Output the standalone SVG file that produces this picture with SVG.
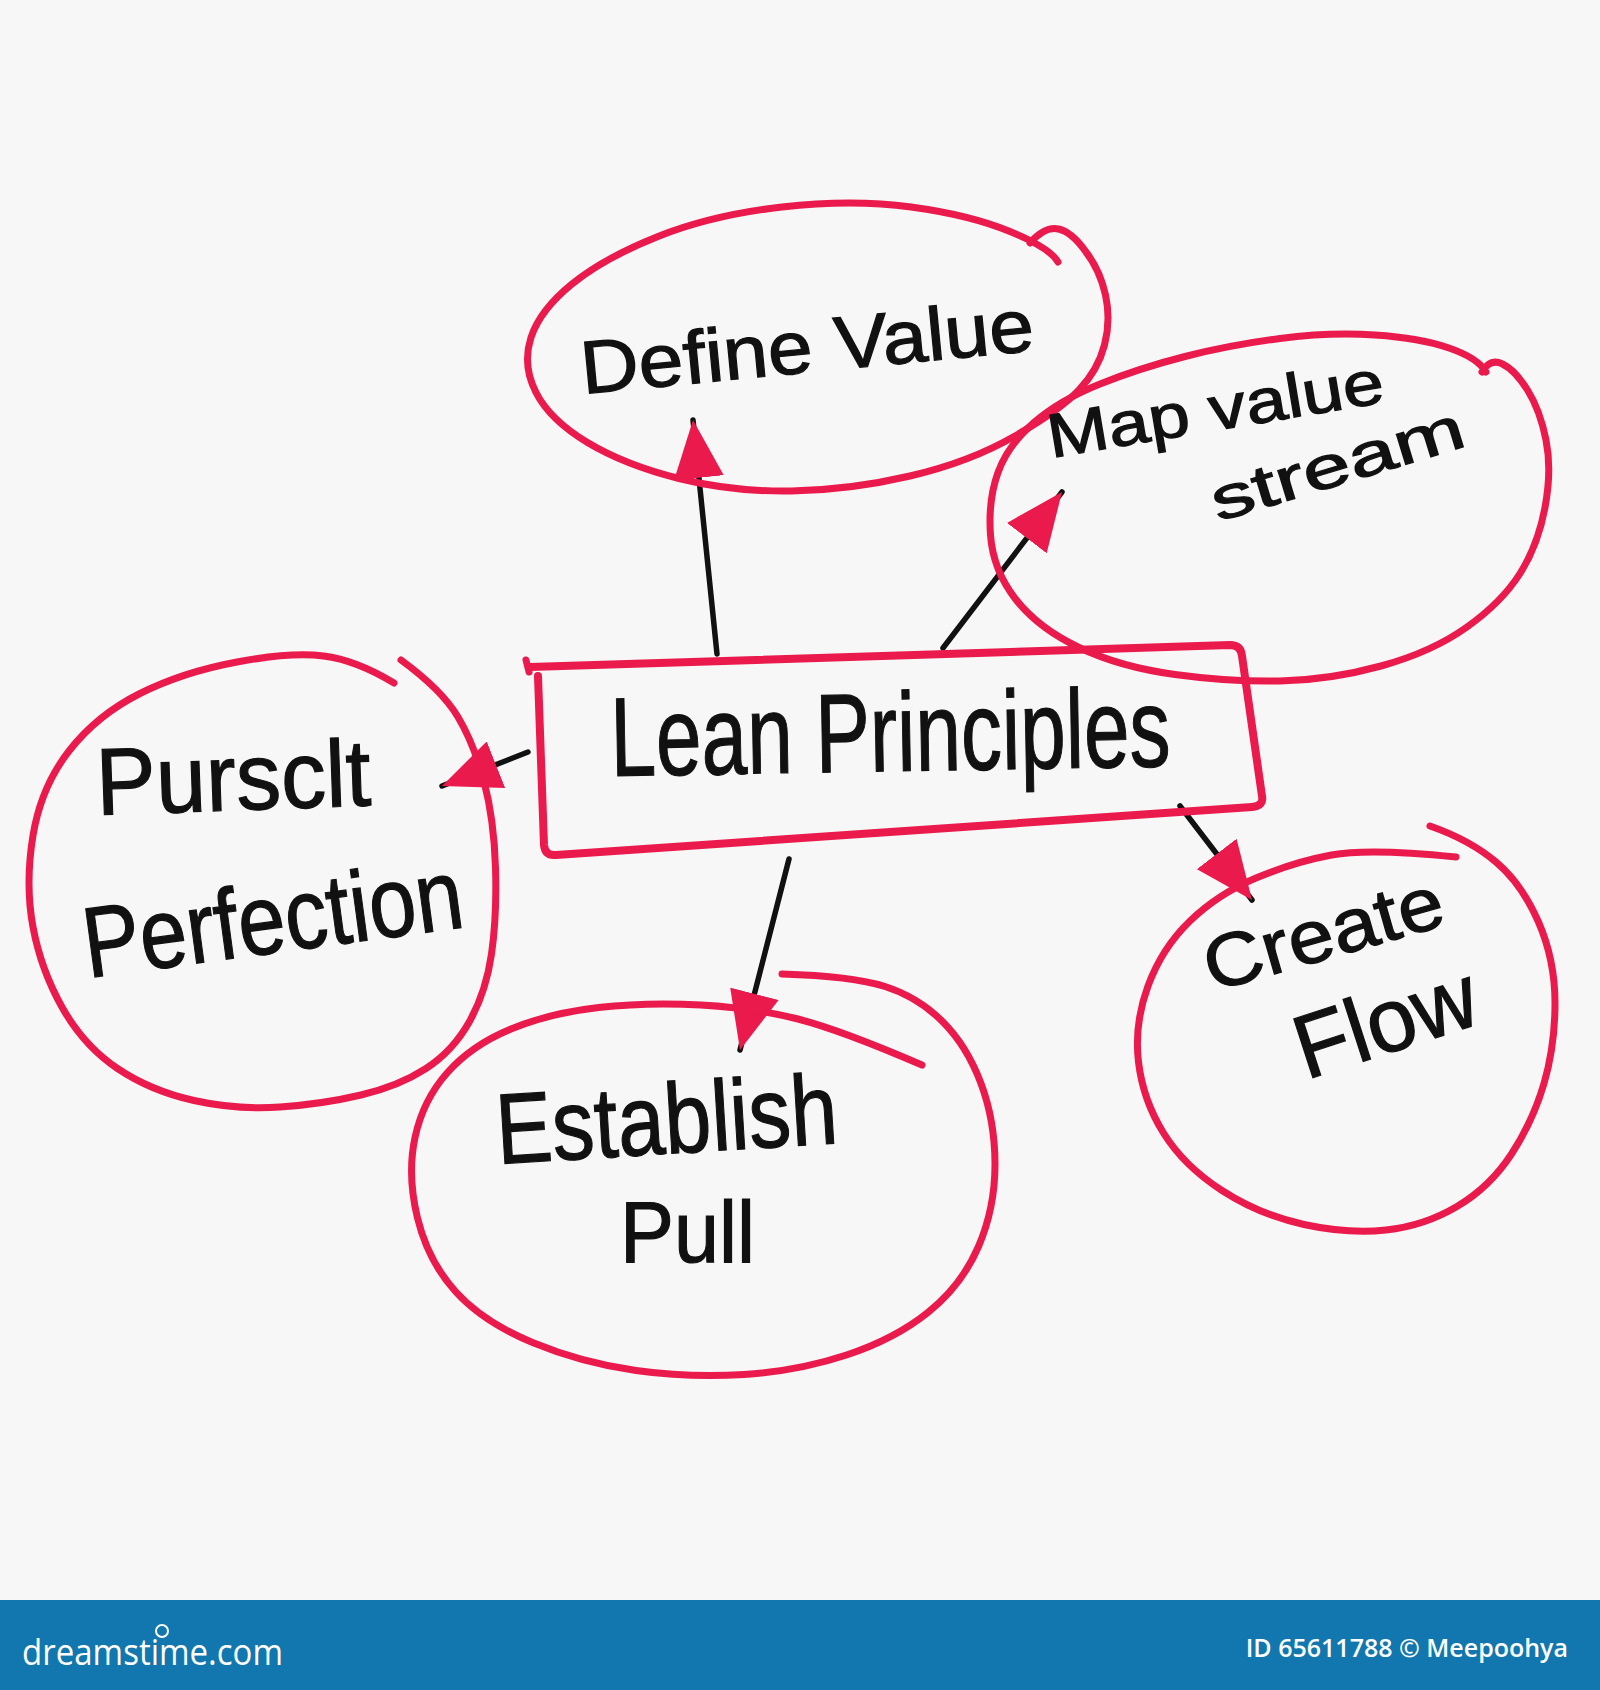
<svg xmlns="http://www.w3.org/2000/svg" width="1600" height="1690" viewBox="0 0 1600 1690">
<style>
.bg{fill:#f7f7f7}
.red{fill:none;stroke:#ea1a4d;stroke-width:7;stroke-linecap:round;stroke-linejoin:round}
.lbl{font-family:"Liberation Sans","DejaVu Sans",sans-serif;fill:#111;stroke:#111;stroke-width:1.2}
.conn{fill:none;stroke:#111;stroke-width:5.5;stroke-linecap:round}
.bar{fill:#1177ae}
.foot{font-family:"Open Sans","Liberation Sans",sans-serif;fill:#fff}
</style>
<defs>
<marker id="ah" markerUnits="userSpaceOnUse" markerWidth="58" markerHeight="50" viewBox="0 0 58 50" refX="58" refY="25" orient="auto">
<path d="M0,0 L58,25 L0,50 Z" fill="#ea1a4d"/>
</marker>
</defs>
<rect class="bg" x="0" y="0" width="1600" height="1690"/>

<g id="connectors">
<path class="conn" d="M717,654 L693,420" marker-end="url(#ah)"/>
<path class="conn" d="M943,648 L1062,492" marker-end="url(#ah)"/>
<path class="conn" d="M528,752 L442,786" marker-end="url(#ah)"/>
<path class="conn" d="M789,859 L740,1050" marker-end="url(#ah)"/>
<path class="conn" d="M1180,806 L1252,900" marker-end="url(#ah)"/>
</g>

<g id="define-value">
<path class="red" d="M1030,243 Q1045,226 1058.5,229 Q1072,232 1086,252 Q1100,270 1105.5,295 Q1111,320 1104.5,345 Q1098,370 1079,390 Q1060,410 1015,436 Q970,462 910,476 Q850,490 791.5,491 Q733,492 679,478.5 Q625,465 587.5,442.5 Q550,420 536,392.5 Q522,365 531,337.5 Q540,310 572,284 Q604,258 658,236.5 Q712,215 782,207 Q852,199 911,207 Q970,215 1010,231.5 Q1050,248 1058,262"/>
<text class="lbl" x="583" y="394" font-size="75" textLength="455" lengthAdjust="spacingAndGlyphs" transform="rotate(-5.5 583 394)">Define Value</text>
</g>

<g id="map-value-stream">
<path class="red" d="M1482,372 Q1490,358 1502.5,364 Q1515,370 1527.5,390 Q1540,410 1546,440 Q1552,470 1545,507.5 Q1538,545 1520,573.5 Q1502,602 1467,627 Q1432,652 1381,666 Q1330,680 1280,681 Q1230,682 1175,674.5 Q1120,667 1079,647.5 Q1038,628 1015.5,599 Q993,570 990.5,535 Q988,500 998,472.5 Q1008,445 1034,422.5 Q1060,400 1100,384 Q1140,368 1185,356.5 Q1230,345 1280,338.5 Q1330,332 1375,335 Q1420,338 1449,348 Q1478,358 1486,372"/>
<text class="lbl" x="1051" y="458" font-size="62" textLength="340" lengthAdjust="spacingAndGlyphs" transform="rotate(-9.5 1051 458)">Map value</text>
<text class="lbl" x="1218" y="522" font-size="60" textLength="262" lengthAdjust="spacingAndGlyphs" transform="rotate(-17 1218 522)">stream</text>
</g>

<g id="lean-principles">
<path class="red" d="M526,660 L529,672"/>
<path class="red" style="stroke-width:8" d="M530,667 L1230,645 Q1241,645 1242,656 L1262,796 Q1264,806 1252,807 L556,855 Q545,856 544,845 L538,676"/>
<text class="lbl" x="611" y="776" font-size="112" textLength="560" lengthAdjust="spacingAndGlyphs" transform="rotate(-1 611 776)">Lean Principles</text>
</g>

<g id="pursuit-perfection">
<path class="red" d="M401,660 Q442,690 458,717 Q474,744 484,781.5 Q494,819 495.5,867.5 Q497,916 491.5,954 Q486,992 469.5,1021.5 Q453,1051 426,1068.5 Q399,1086 361,1095 Q323,1104 280,1107 Q237,1110 194,1100.5 Q151,1091 117.5,1068.5 Q84,1046 62.5,1008 Q41,970 33,927 Q25,884 33,835.5 Q41,787 69,751 Q97,715 140,693.5 Q183,672 237,662 Q291,652 323.5,656 Q356,660 394,683"/>
<text class="lbl" x="97" y="815" font-size="95" textLength="275" lengthAdjust="spacingAndGlyphs" transform="rotate(-2 97 815)">Pursclt</text>
<text class="lbl" x="88" y="978" font-size="100" textLength="382" lengthAdjust="spacingAndGlyphs" transform="rotate(-7.7 88 978)">Perfection</text>
</g>

<g id="establish-pull">
<path class="red" d="M782,974 Q852,976 885,986.5 Q918,997 942.5,1021.5 Q967,1046 981,1083.5 Q995,1121 995,1164.5 Q995,1208 978.5,1246.5 Q962,1285 928.5,1312 Q895,1339 846.5,1355 Q798,1371 744,1374.5 Q690,1378 636,1370.5 Q582,1363 532.5,1342.5 Q483,1322 455.5,1291.5 Q428,1261 417.5,1218 Q407,1175 415,1137.5 Q423,1100 447.5,1072.5 Q472,1045 511,1029 Q550,1013 598.5,1007.5 Q647,1002 701,1005 Q755,1008 798,1019 Q841,1030 922,1065"/>
<text class="lbl" x="498" y="1164" font-size="100" textLength="342" lengthAdjust="spacingAndGlyphs" transform="rotate(-3.5 498 1164)">Establish</text>
<text class="lbl" x="620" y="1262" font-size="88" textLength="135" lengthAdjust="spacingAndGlyphs">Pull</text>
</g>

<g id="create-flow">
<path class="red" d="M1430,826 Q1470,840 1496,862 Q1522,884 1538.5,922 Q1555,960 1555,1003 Q1555,1046 1544,1083.5 Q1533,1121 1511.5,1154 Q1490,1187 1457,1206.5 Q1424,1226 1386,1230 Q1348,1234 1304,1224.5 Q1260,1215 1222,1190.5 Q1184,1166 1163.5,1133 Q1143,1100 1138.5,1062 Q1134,1024 1148,986 Q1162,948 1190,921 Q1218,894 1256,878 Q1294,862 1331.5,855 Q1369,848 1456,857"/>
<text class="lbl" x="1212" y="992" font-size="75" textLength="246" lengthAdjust="spacingAndGlyphs" transform="rotate(-16 1212 992)">Create</text>
<text class="lbl" x="1306" y="1080" font-size="90" textLength="187" lengthAdjust="spacingAndGlyphs" transform="rotate(-18 1306 1080)">Flow</text>
</g>

<g id="footer">
<rect class="bar" x="0" y="1600" width="1600" height="90"/>
<circle cx="162" cy="1631" r="6" fill="none" stroke="#fff" stroke-width="2"/>
<text class="foot" x="22" y="1665" font-size="36" textLength="261" lengthAdjust="spacingAndGlyphs">dreamstime.com</text>
<text class="foot" x="1568" y="1657" font-size="25" font-weight="600" text-anchor="end">ID 65611788 © Meepoohya</text>
</g>
</svg>
